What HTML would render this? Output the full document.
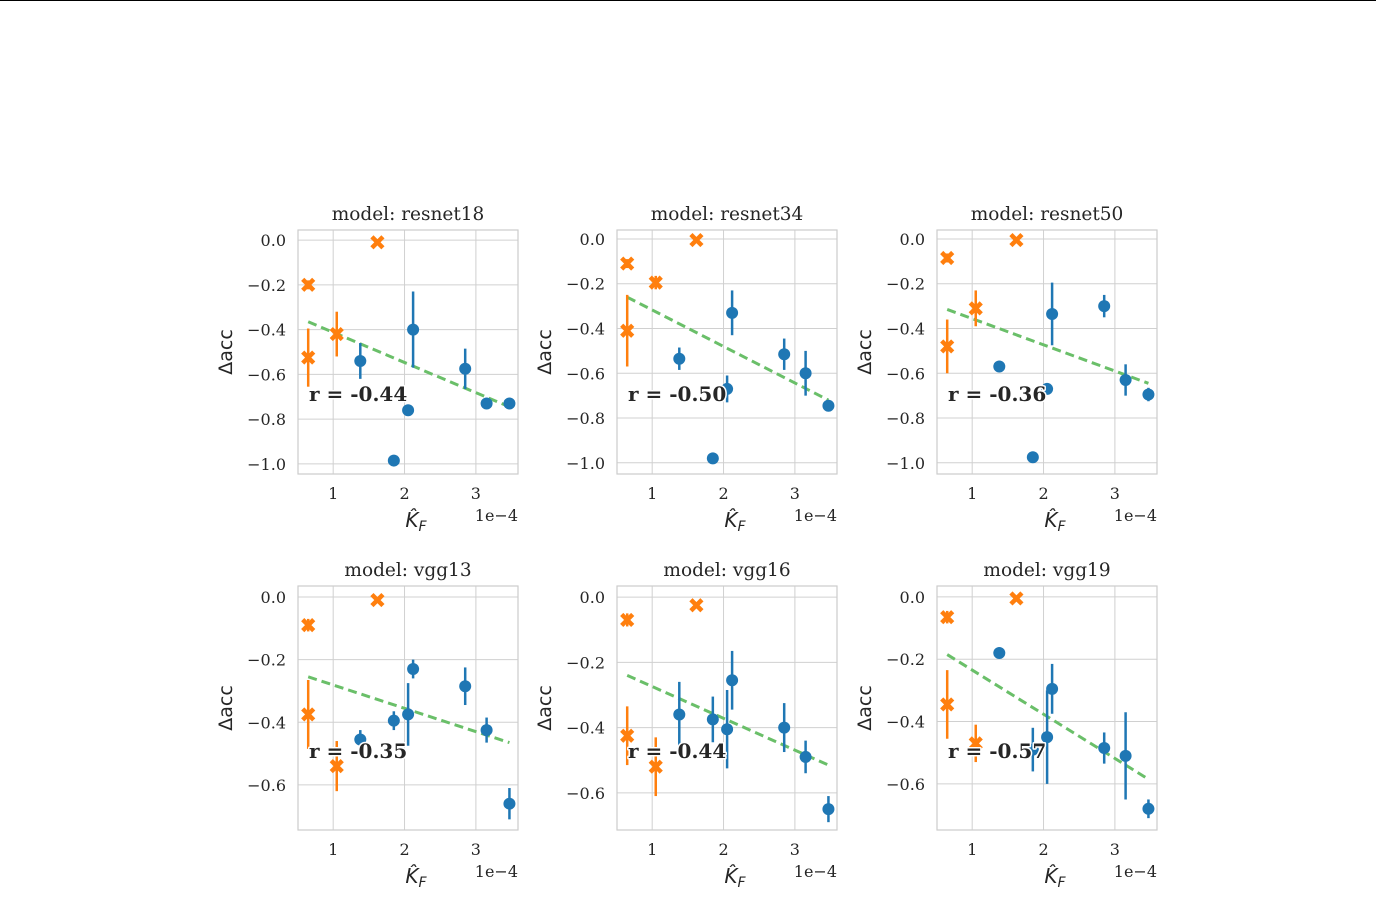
<!DOCTYPE html>
<html><head><meta charset="utf-8"><style>
body{margin:0;background:#fff;width:1376px;height:892px;overflow:hidden}
text{font-family:"DejaVu Serif","Liberation Serif",serif;fill:#262626}
</style></head><body>
<svg id="fig" width="1376" height="892" xmlns="http://www.w3.org/2000/svg">
<line x1="0" y1="0.5" x2="1376" y2="0.5" stroke="#000" stroke-width="1"/>
</svg>
<script>
const models=["resnet18","resnet34","resnet50","vgg13","vgg16","vgg19"];
const rVals=["-0.44","-0.50","-0.36","-0.35","-0.44","-0.57"];
const orangeX=[0.65,0.65,1.05,1.62];
const blueX=[1.38,1.85,2.05,2.12,2.85,3.15,3.47];
const orangeY=[[-0.20,-0.525,-0.42,-0.01],[-0.11,-0.41,-0.195,-0.005],[-0.085,-0.48,-0.31,-0.005],[-0.09,-0.375,-0.54,-0.01],[-0.07,-0.425,-0.52,-0.025],[-0.065,-0.345,-0.47,-0.005]];
const orangeErr=[[0.02,0.13,0.1,0],[0.02,0.16,0.03,0],[0.02,0.12,0.08,0],[0.02,0.11,0.08,0],[0.02,0.09,0.09,0],[0.02,0.11,0.06,0]];
const blueY=[[-0.54,-0.985,-0.76,-0.40,-0.575,-0.73,-0.73],[-0.535,-0.98,-0.67,-0.33,-0.515,-0.60,-0.745],[-0.57,-0.975,-0.67,-0.335,-0.30,-0.63,-0.695],[-0.455,-0.395,-0.375,-0.23,-0.285,-0.425,-0.66],[-0.36,-0.375,-0.405,-0.255,-0.40,-0.49,-0.65],[-0.18,-0.49,-0.45,-0.295,-0.485,-0.51,-0.68]];
const blueErr=[[0.08,0,0,0.17,0.09,0,0.02],[0.05,0,0.06,0.1,0.07,0.1,0],[0.02,0,0.02,0.14,0.05,0.07,0.03],[0.03,0.03,0.1,0.03,0.06,0.04,0.05],[0.1,0.07,0.12,0.09,0.075,0.05,0.04],[0,0.07,0.15,0.08,0.05,0.14,0.03]];
const fitY=[[-0.365,-0.745],[-0.26,-0.72],[-0.315,-0.645],[-0.255,-0.465],[-0.24,-0.515],[-0.185,-0.585]];
const yDomains=[[0.045,-1.045],[0.04,-1.05],[0.04,-1.05],[0.035,-0.744],[0.034,-0.714],[0.035,-0.748]];
const yTicks=[[0,-0.2,-0.4,-0.6,-0.8,-1.0],[0,-0.2,-0.4,-0.6,-0.8,-1.0],[0,-0.2,-0.4,-0.6,-0.8,-1.0],[0,-0.2,-0.4,-0.6],[0,-0.2,-0.4,-0.6],[0,-0.2,-0.4,-0.6]];
const xTicks=[1,2,3];
const xDomain=[0.507,3.59];
const NS="http://www.w3.org/2000/svg";
const svg=document.getElementById("fig");
function mk(tag,attrs,parent,txt){const e=document.createElementNS(NS,tag);for(const k in attrs)e.setAttribute(k,attrs[k]);if(txt!==undefined)e.textContent=txt;(parent||svg).appendChild(e);return e;}
const lefts=[298,617,937], tops=[230,586], W=220, H=244;
models.forEach((m,i)=>{
  const L=lefts[i%3], T=tops[Math.floor(i/3)];
  const g=mk("g",{});
  
  
  const sx=v=>L+(v-xDomain[0])/(xDomain[1]-xDomain[0])*W;
  const yd=yDomains[i];
  const sy=v=>T+(yd[0]-v)/(yd[0]-yd[1])*H;
  xTicks.forEach(t=>{mk("line",{x1:sx(t),x2:sx(t),y1:T,y2:T+H,stroke:"#d0d0d0","stroke-width":1},g);
    const tl=mk("text",{x:sx(t),y:T+H+25,"text-anchor":"middle","font-size":16},g,String(t));
    });
  yTicks[i].forEach(t=>{mk("line",{x1:L,x2:L+W,y1:sy(t),y2:sy(t),stroke:"#d0d0d0","stroke-width":1},g);
    const tl=mk("text",{x:L-12,y:sy(t)+6,"text-anchor":"end","font-size":16},g,(t===0?"0.0":"\u2212"+Math.abs(t).toFixed(1)));
    });
  mk("rect",{x:L,y:T,width:W,height:H,fill:"none",stroke:"#cccccc","stroke-width":1.2},g);
  const ti=mk("text",{x:L+W/2,y:T-10,"text-anchor":"middle","font-size":18.5},g,"model: "+m);
  
  const yl=mk("text",{x:0,y:0,"text-anchor":"middle","font-size":19,transform:`translate(${L-66},${T+H/2}) rotate(-90)`,style:"font-family:'DejaVu Sans',sans-serif"},g,"\u0394acc");
  
  const xl=mk("text",{x:L+W/2+8,y:T+H+53,"text-anchor":"middle","font-size":20,"font-style":"italic",style:"font-family:'DejaVu Sans',sans-serif"},g);
  
  mk("tspan",{},xl,"K\u0302");mk("tspan",{"font-size":14,dy:4},xl,"F");
  const ex=mk("text",{x:L+W,y:T+H+47,"text-anchor":"end","font-size":16},g,"1e\u22124");
  
  const fl=mk("line",{x1:sx(orangeX[0]),y1:sy(fitY[i][0]),x2:sx(blueX[6]),y2:sy(fitY[i][1]),stroke:"#6abf69","stroke-width":3,"stroke-dasharray":"9,5"},g);
  
  blueX.forEach((x,j)=>{const y=blueY[i][j],e=blueErr[i][j];
    if(e>0)mk("line",{x1:sx(x),x2:sx(x),y1:sy(y+e),y2:sy(y-e),stroke:"#1f77b4","stroke-width":2.5},g);
    const c=mk("circle",{cx:sx(x),cy:sy(y),r:6,fill:"#1f77b4"},g);
    });
  orangeX.forEach((x,j)=>{const y=orangeY[i][j],e=orangeErr[i][j];
    if(e>0)mk("line",{x1:sx(x),x2:sx(x),y1:sy(y+e),y2:sy(y-e),stroke:"#ff7f0e","stroke-width":2.5},g);
    const cx=sx(x),cy=sy(y),d=5.5;
    const p=mk("path",{d:`M${cx-d},${cy-d}L${cx+d},${cy+d}M${cx+d},${cy-d}L${cx-d},${cy+d}`,stroke:"#ff7f0e","stroke-width":4.5,"stroke-linecap":"butt"},g);
    });
  const rt=mk("text",{x:L+11,y:i<3?T+171:T+172,"font-size":20,"font-weight":"bold",stroke:"#fff","stroke-width":3,"paint-order":"stroke","stroke-linejoin":"round"},g,"r = "+rVals[i]);
  
});
</script>
</body></html>
